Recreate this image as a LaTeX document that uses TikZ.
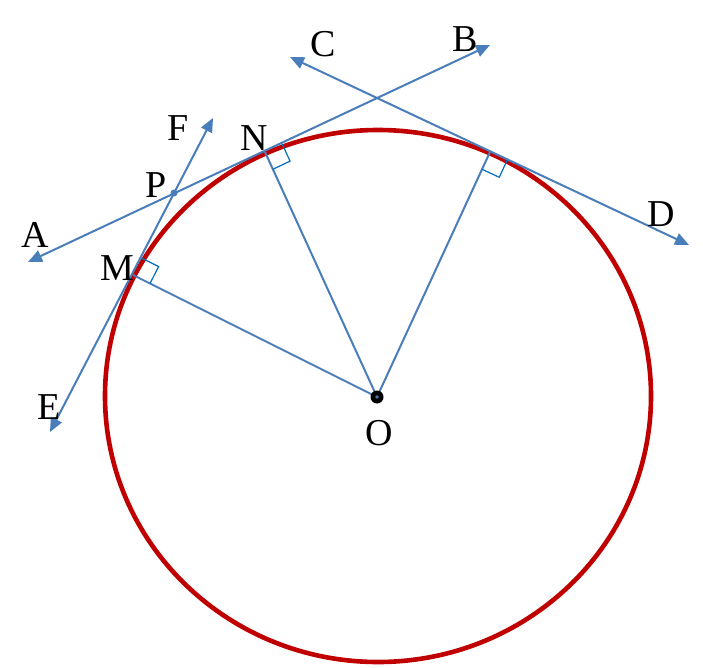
\documentclass[tikz,border=0pt]{standalone}
\usepackage{fontspec}
\setmainfont{Liberation Serif}
\usetikzlibrary{arrows.meta,calc}
\definecolor{lineblue}{HTML}{4A7EBB}
\definecolor{markblue}{HTML}{0070C0}
\definecolor{circred}{HTML}{C00000}
\tikzset{
  tline/.style={draw=lineblue,line width=2pt,{Triangle[length=14pt,width=12pt]}-{Triangle[length=14pt,width=12pt]}},
  radius line/.style={draw=lineblue,line width=2pt},
  ramark/.style={draw=markblue,line width=1.2pt},
  lbl/.style={inner sep=0pt,font=\fontsize{38}{44}\selectfont},
}
\begin{document}
\begin{tikzpicture}[x=1pt,y=-1pt]
\useasboundingbox (0,0) rectangle (703,668);
\fill[white] (0,0) rectangle (703,668);
% points
\coordinate (O) at (377,397);
\coordinate (M) at (133,275);
\coordinate (N) at (265,152);
\coordinate (T) at (490,152);
\coordinate (P) at (174,193);
\coordinate (A) at (28,262);
\coordinate (B) at (490,45);
\coordinate (C) at (290,57);
\coordinate (D) at (689,245);
\coordinate (E) at (50,432);
\coordinate (F) at (213,118);
% circle
\draw[circred,line width=4.6pt] (378,396) ellipse [x radius=273, y radius=266];
% tangents
\draw[tline] (A) -- (B);
\draw[tline] (C) -- (D);
\draw[tline] (E) -- (F);
% radii
\draw[radius line] (O) -- (M);
\draw[radius line] (O) -- (N);
\draw[radius line] (O) -- (T);
% right angle marks
\coordinate (m1) at ($(M)!19pt!(F)$);
\coordinate (m3) at ($(M)!19pt!(O)$);
\draw[ramark] (m1) -- ($(m1)+(m3)-(M)$) -- (m3);
\coordinate (n1) at ($(N)!19pt!(B)$);
\coordinate (n3) at ($(N)!19pt!(O)$);
\draw[ramark] (n1) -- ($(n1)+(n3)-(N)$) -- (n3);
\coordinate (t1) at ($(T)!19pt!(D)$);
\coordinate (t3) at ($(T)!19pt!(O)$);
\draw[ramark] (t1) -- ($(t1)+(t3)-(T)$) -- (t3);
% dots
\fill[black] (O) circle (6.5pt);
\fill[lineblue] (O) circle (1.8pt);
\fill[lineblue] (P) circle (3.5pt);
% labels
\node[lbl] (lA) at (35,235) {A};
\node[lbl] (lB) at (465,39) {B};
\node[lbl] (lC) at (323,44) {C};
\node[lbl] (lD) at (661,214) {D};
\node[lbl] (lE) at (49,407) {E};
\node[lbl] (lF) at (178,128) {F};
\node[lbl] (lN) at (254,138) {N};
\node[lbl] (lP) at (156,185) {P};
\node[lbl] (lM) at (117,268) {M};
\node[lbl] (lO) at (379,433) {O};
\end{tikzpicture}
\end{document}
